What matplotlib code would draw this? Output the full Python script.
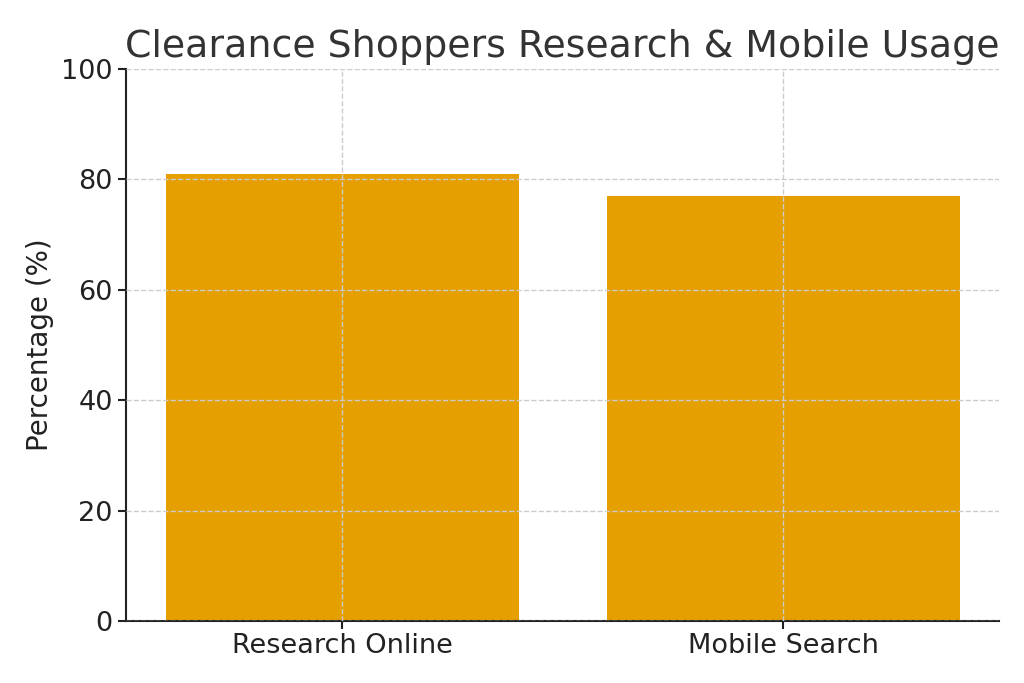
import matplotlib
matplotlib.use("Agg")
import matplotlib.pyplot as plt

categories = ["Research Online", "Mobile Search"]
values = [81, 77]
yticks = [0, 20, 40, 60, 80, 100]

fig = plt.figure(figsize=(10.24, 6.83), dpi=100)
ax = fig.add_axes([0.123, 0.0908, 0.853, 0.808])
ax.bar(categories, values, color="#E69F00", width=0.8, zorder=1)
ax.set_ylim(0, 100)
ax.set_yticks(yticks)
ax.grid(True, linestyle="--", color="#cccccc", linewidth=1, zorder=3)
ax.set_axisbelow(False)
for s in ["top", "right"]:
    ax.spines[s].set_visible(False)
for s in ["left", "bottom"]:
    ax.spines[s].set_linewidth(1.5)
    ax.spines[s].set_color("#222222")
ax.tick_params(axis="both", labelsize=19.5, colors="#222222", length=6, width=1.5)
ax.tick_params(axis="x", pad=3)
ax.set_ylabel("Percentage (%)", fontsize=20, color="#222222", labelpad=5)
ax.set_title("Clearance Shoppers Research & Mobile Usage", fontsize=27.3, color="#333333", pad=9)
fig.savefig("out.png", dpi=100)
